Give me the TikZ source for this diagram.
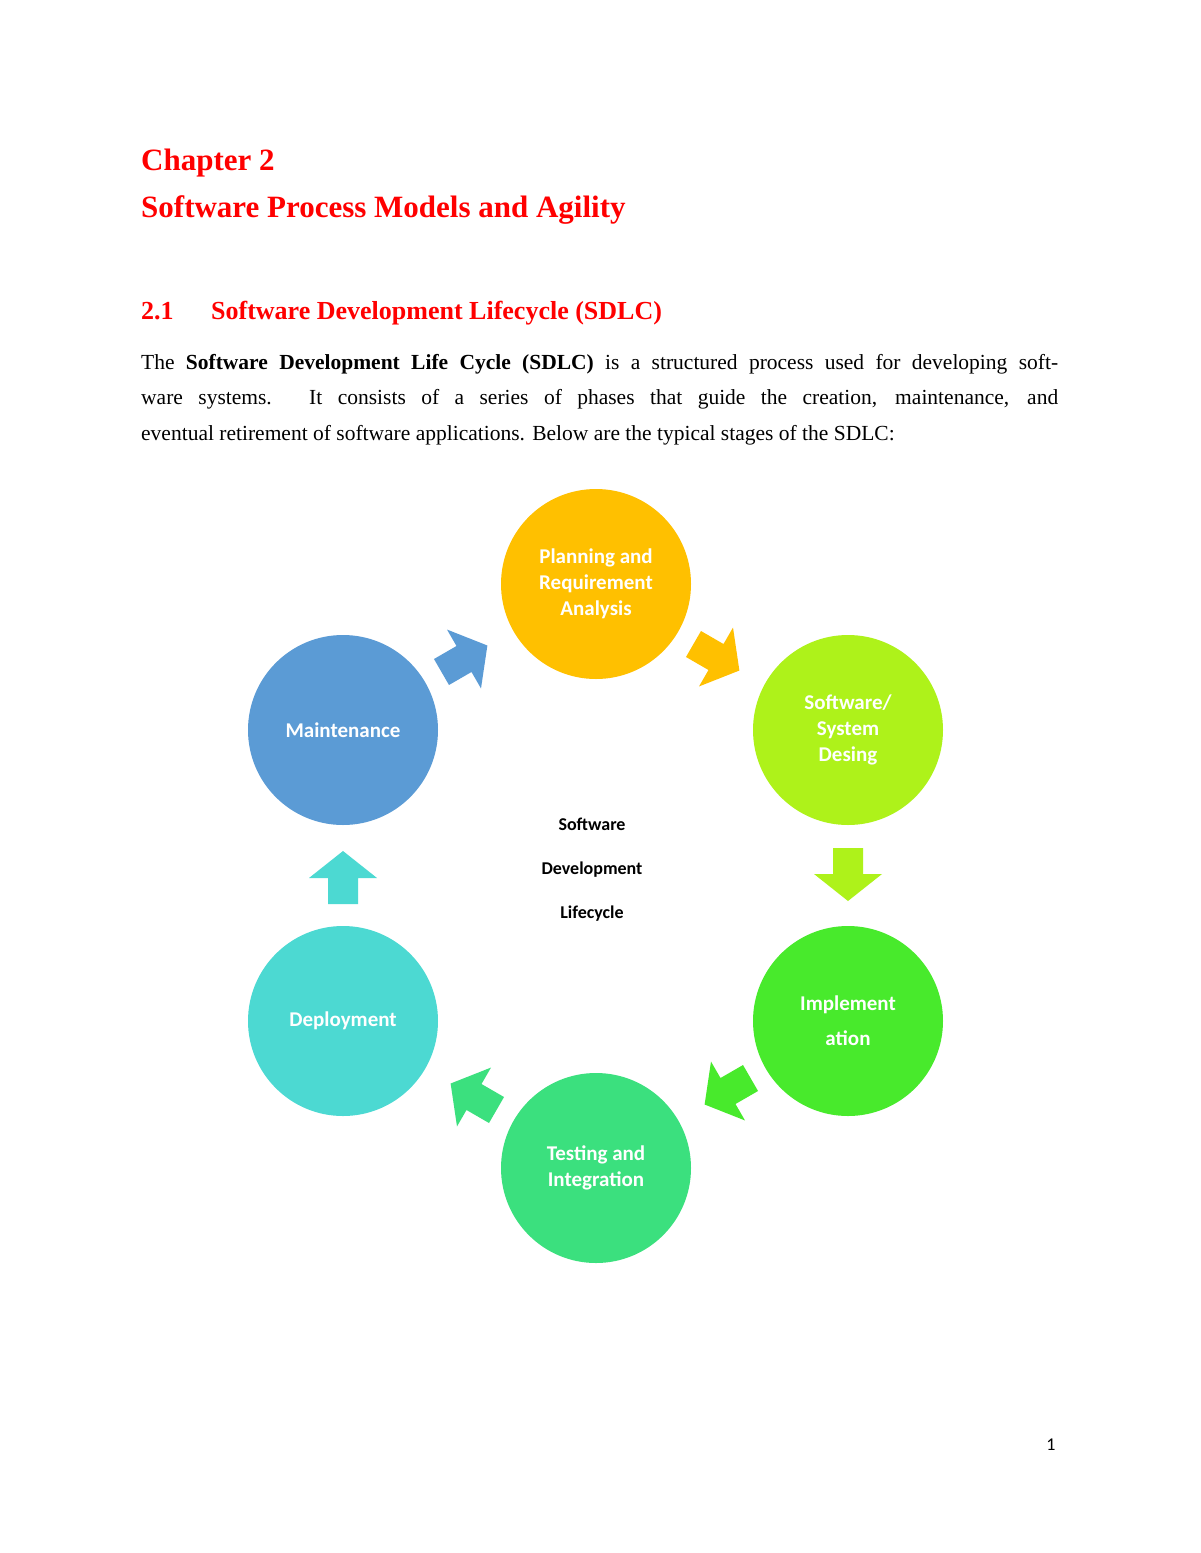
\documentclass[tikz,border=0pt]{standalone}
\usepackage{fontspec}
\setmainfont{Liberation Serif}
\newfontfamily\calfont{Carlito}
\definecolor{cred}{HTML}{FF0000}
\definecolor{cyel}{HTML}{FFC000}
\definecolor{clime}{HTML}{AEF21A}
\definecolor{cgrn}{HTML}{48EA2C}
\definecolor{cmint}{HTML}{3BE07E}
\definecolor{ccyan}{HTML}{4CD9D2}
\definecolor{cblue}{HTML}{5B9BD5}
\tikzset{
 phase/.style={circle,minimum size=190pt,inner sep=0pt,text=white,font=\calfont\bfseries\fontsize{21}{26}\selectfont,align=center},
 head/.style={text=cred,font=\bfseries,anchor=base west,inner sep=0pt}
}
\newcommand{\blockarrow}[4]{% x y angle color
 \fill[#4,shift={(#1,#2)},rotate=#3] (-26,-15) -- (0,-15) -- (0,-34) -- (27,0) -- (0,34) -- (0,15) -- (-26,15) -- cycle;}
\begin{document}
\begin{tikzpicture}[x=1pt,y=-1pt]
\useasboundingbox[fill=white] (0,0) rectangle (1200,1553);
\node[head,font=\bfseries\fontsize{31}{36}\selectfont] (ch) at (141,170) {Chapter 2};
\node[head,font=\bfseries\fontsize{31}{36}\selectfont] (ti) at (141,217) {Software Process Models and Agility};
\node[head,font=\bfseries\fontsize{26}{30}\selectfont] (s1) at (141,319) {2.1};
\node[head,font=\bfseries\fontsize{26}{30}\selectfont] (s2) at (211,319) {Software Development Lifecycle (SDLC)};
\node[anchor=base west,inner sep=0pt,text width=917pt,align=justify,font=\fontsize{21.5}{35.5}\selectfont] (body) at (141,369)
 {The \textbf{Software Development Life Cycle (SDLC)} is a structured process used for developing software systems. It consists of a series of phases that guide the creation, maintenance, and\linebreak eventual retirement of software applications. Below are the typical stages of the SDLC:};
\node[phase,fill=cyel] (p1) at (596,584) {Planning and\\Requirement\\Analysis};
\node[phase,fill=clime] (p2) at (848,730) {Software/\\System\\Desing};
\node[phase,fill=cgrn,font=\calfont\bfseries\fontsize{21}{35}\selectfont] (p3) at (848,1021) {Implement\\ation};
\node[phase,fill=cmint] (p4) at (596,1168) {Testing and\\Integration};
\node[phase,fill=ccyan] (p5) at (343,1021) {Deployment};
\node[phase,fill=cblue] (p6) at (343,730) {Maintenance};
\blockarrow{716}{657}{-30}{cyel}
\blockarrow{848}{874}{-90}{clime}
\blockarrow{728}{1091}{210}{cgrn}
\blockarrow{474}{1097}{150}{cmint}
\blockarrow{343}{878}{90}{ccyan}
\blockarrow{464}{659}{30}{cblue}
\node[align=center,font=\calfont\bfseries\fontsize{18}{44}\selectfont] (ctr) at (592,870) {Software\\Development\\Lifecycle};
\node[anchor=base,inner sep=0pt,font=\calfont\fontsize{18}{22}\selectfont] (pg) at (1051,1450) {1};
\end{tikzpicture}
\end{document}
